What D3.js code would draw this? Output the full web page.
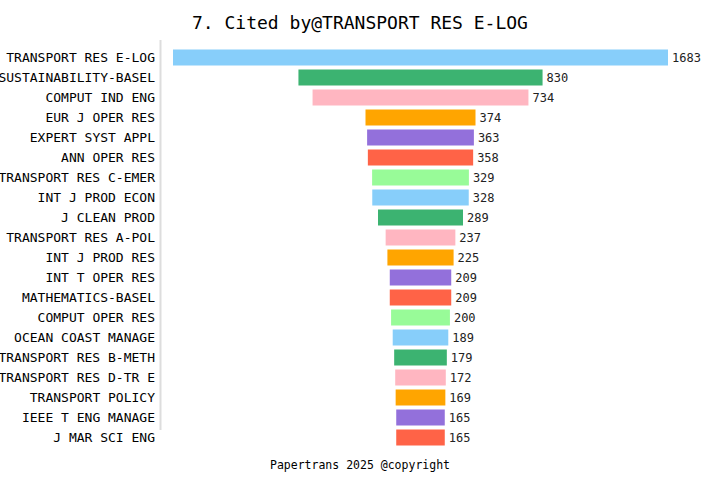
<!DOCTYPE html>
<html>
<head>
<meta charset="utf-8">
<script src="https://cdn.jsdelivr.net/npm/d3@7"></script>
<style>
  body { margin: 0; background: #fff; }
  text { font-family: "DejaVu Sans Mono", "Liberation Mono", monospace; }
</style>
</head>
<body>
<div id="chart"></div>
<script>
// datos
const journals = [
  "TRANSPORT RES E-LOG", "SUSTAINABILITY-BASEL", "COMPUT IND ENG", "EUR J OPER RES",
  "EXPERT SYST APPL", "ANN OPER RES", "TRANSPORT RES C-EMER", "INT J PROD ECON",
  "J CLEAN PROD", "TRANSPORT RES A-POL", "INT J PROD RES", "INT T OPER RES",
  "MATHEMATICS-BASEL", "COMPUT OPER RES", "OCEAN COAST MANAGE", "TRANSPORT RES B-METH",
  "TRANSPORT RES D-TR E", "TRANSPORT POLICY", "IEEE T ENG MANAGE", "J MAR SCI ENG"
];
const citations = [1683, 830, 734, 374, 363, 358, 329, 328, 289, 237, 225, 209, 209, 200, 189, 179, 172, 169, 165, 165];
const palette = ["#87CEFA", "#3CB371", "#FFB6C1", "#FFA500", "#9370DB", "#FF6347", "#98FB98"];

const width = 720, height = 480;
const centerX = 420.5;

const svg = d3.select("#chart").append("svg")
  .attr("width", width)
  .attr("height", height);

// titulo
svg.append("text")
  .attr("x", 360).attr("y", 29)
  .attr("text-anchor", "middle")
  .style("font-size", "18px")
  .attr("fill", "#000")
  .text("7. Cited by@TRANSPORT RES E-LOG");

// escalas
const y = d3.scaleBand()
  .domain(journals)
  .range([47.5, 447.5])
  .paddingInner(0.2)
  .paddingOuter(0.1);

const x = d3.scaleLinear()
  .domain([0, d3.max(citations)])
  .range([0, 495]);

// eje vertical
svg.append("line")
  .attr("x1", 160.5).attr("x2", 160.5)
  .attr("y1", 40).attr("y2", 430)
  .attr("stroke", "#ddd")
  .attr("stroke-width", 2);

// etiquetas de revistas
svg.selectAll(".label")
  .data(journals)
  .join("text")
  .attr("class", "label")
  .attr("x", 155)
  .attr("y", d => y(d) + y.bandwidth() / 2)
  .attr("dy", "0.35em")
  .attr("text-anchor", "end")
  .style("font-size", "13px")
  .attr("fill", "#000")
  .text(d => d);

// barras centradas (embudo)
svg.selectAll(".bar")
  .data(citations)
  .join("rect")
  .attr("class", "bar")
  .attr("x", d => centerX - x(d) / 2)
  .attr("y", (d, i) => y(journals[i]))
  .attr("width", d => x(d))
  .attr("height", y.bandwidth())
  .attr("fill", (d, i) => palette[i % palette.length]);

// valores
svg.selectAll(".value")
  .data(citations)
  .join("text")
  .attr("class", "value")
  .attr("x", d => centerX + x(d) / 2 + 4)
  .attr("y", (d, i) => y(journals[i]) + y.bandwidth() / 2)
  .attr("dy", "0.35em")
  .style("font-size", "12px")
  .attr("fill", "#222")
  .text(d => d);

// pie
svg.append("text")
  .attr("x", 360).attr("y", 469)
  .attr("text-anchor", "middle")
  .style("font-size", "11.5px")
  .attr("fill", "#000")
  .text("Papertrans 2025 @copyright");
</script>
</body>
</html>
